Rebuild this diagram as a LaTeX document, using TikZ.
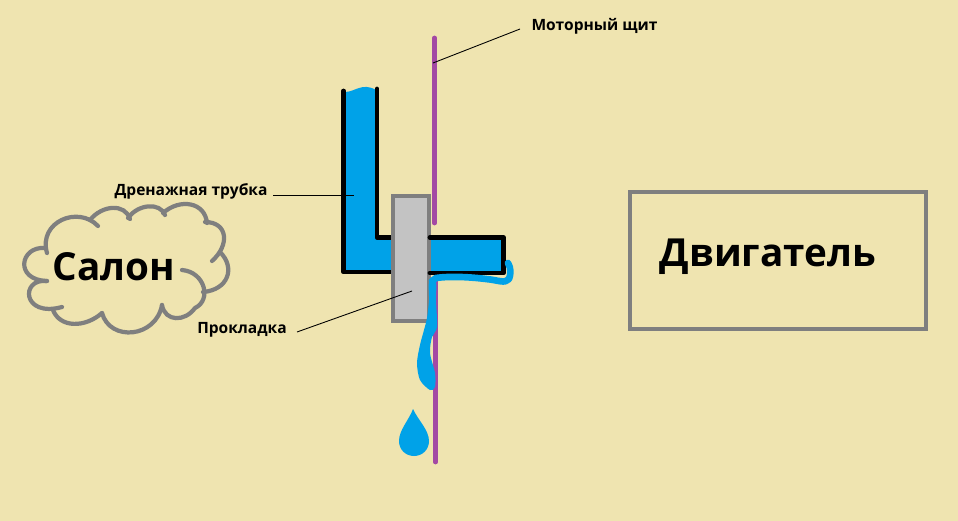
\documentclass[tikz,border=0pt]{standalone}
\usepackage{fontspec}
\setmainfont{Open Sans}
\usetikzlibrary{positioning}
\definecolor{bgsand}{HTML}{EFE4B0}
\definecolor{waterblue}{HTML}{00A2E8}
\definecolor{shieldpurple}{HTML}{A349A4}
\definecolor{padgray}{HTML}{C3C3C3}
\definecolor{rimgray}{HTML}{7F7F7F}
\begin{document}
\begin{tikzpicture}[
	x=0.02cm, y=-0.02cm,
	wall/.style = {draw=black,line width=2.7pt,line cap=round,line join=round},
	shield/.style = {draw=shieldpurple,line width=2.7pt,line cap=round},
	water/.style = {draw=waterblue,line width=3.8pt,line cap=round,line join=round},
	leader/.style = {draw=black,line width=0.5pt},
	puff/.style = {draw=rimgray,line width=2.4pt,line cap=round},
	small label/.style = {font=\bfseries\fontsize{8.85}{11}\selectfont,inner sep=0pt,anchor=center},
	big label/.style = {font=\bfseries\fontsize{22}{26}\selectfont,inner sep=0pt,anchor=center}
	]
	\useasboundingbox (0,0) rectangle (958,521);
	\fill[bgsand] (0,0) rectangle (958,521);

	\draw[shield] (434.5,38) -- (434.5,223);
	\draw[shield] (435.5,280) -- (435.5,462);

	\fill[waterblue] (345,92) .. controls (355,92) and (362,82) .. (376,90) -- (376,238) -- (502,238) -- (502,272) -- (345,272) -- cycle;
	\draw[wall] (343.5,91) -- (343.5,272) -- (392,272);
	\draw[wall] (377,89) -- (377,237.5) -- (392,237.5);

	\node[draw=rimgray,fill=padgray,line width=2.8pt,minimum width=0.72cm,minimum height=2.5cm,inner sep=0pt] (pad) at (411,258.5) {};

	\draw[wall] (430,237.5) -- (503.5,237.5) -- (503.5,273) -- (430,273);

	\draw[water] (508,263) .. controls (511,268) and (511,274) .. (509,279) .. controls (505,284) and (498,280) .. (486,279) .. controls (470,277) and (450,276) .. (436,278) -- (432,281);
	\fill[waterblue] plot[smooth cycle] coordinates {(429,282) (429,300) (427,318) (424,330) (420,345) (417,363) (420,380) (430,390) (435,387) (435,373) (430,353) (432,337) (437,327) (436,300) (436,282)};
	\fill[waterblue] (413,409) .. controls (409,420) and (399,430) .. (399,441) .. controls (399,450) and (406,456) .. (414,456) .. controls (422,456) and (429,450) .. (429,441) .. controls (429,430) and (418,420) .. (413,409) -- cycle;

	\draw[puff] (45,248) .. controls (20,246) and (14,280) .. (47,281);
	\draw[puff] (47,253) .. controls (38,222) and (78,205) .. (98,226);
	\draw[puff] (90,220) .. controls (102,205) and (125,203) .. (130,219);
	\draw[puff] (128,218) .. controls (138,204) and (160,202) .. (165,215);
	\draw[puff] (163,213) .. controls (180,198) and (205,202) .. (207,223);
	\draw[puff] (205,222) .. controls (228,222) and (230,245) .. (212,261);
	\draw[puff] (220,252) .. controls (236,268) and (228,290) .. (203,292);
	\draw[puff] (182,270) .. controls (205,272) and (212,300) .. (195,308) .. controls (185,322) and (165,322) .. (162,305);
	\draw[puff] (162,305) .. controls (156,338) and (110,342) .. (102,313);
	\draw[puff] (102,313) .. controls (85,328) and (60,328) .. (53,310);
	\draw[puff] (47,281) .. controls (20,278) and (22,318) .. (62,307);

	\node[big label] (salon) at (114,267) {Салон};

	\node[draw=rimgray,line width=2.8pt,minimum width=5.92cm,minimum height=2.74cm,inner sep=0pt] (engine box) at (778,260.5) {};
	\node[big label] (engine) at (768,257) {Двигатель};

	\node[small label] (shield label) at (594.5,26) {Моторный щит};
	\node[small label] (tube label) at (191,191) {Дренажная трубка};
	\node[small label] (pad label) at (242,330) {Прокладка};

	\coordinate (shield end) at (433,63);
	\coordinate (shield start) at (520,29);
	\coordinate (tube start) at (273,195);
	\coordinate (tube end) at (354,195);
	\coordinate (pad start) at (297,332);
	\coordinate (pad end) at (412,291);

	\draw[leader] (shield start) -- (shield end);
	\draw[leader] (tube start) -- (tube end);
	\draw[leader] (pad start) -- (pad end);

\end{tikzpicture}
\end{document}
